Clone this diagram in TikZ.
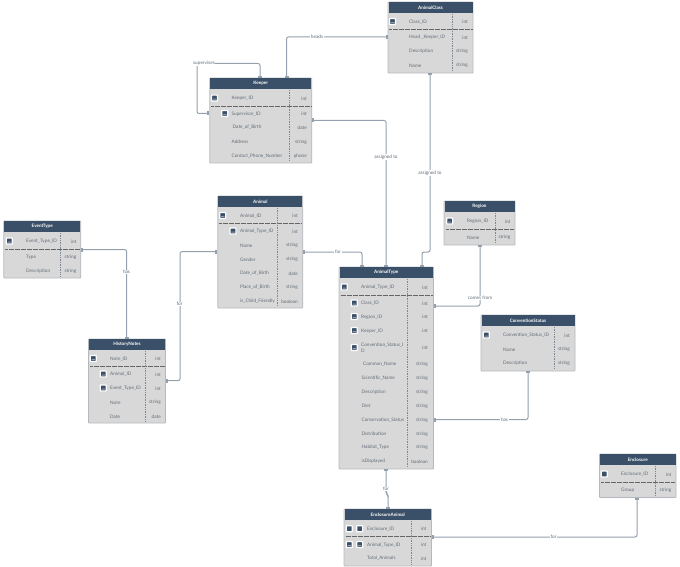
\documentclass[tikz,border=0pt]{standalone}
\usepackage{fontspec}
\setmainfont{Lato}
\usetikzlibrary{arrows.meta}
\definecolor{headblue}{HTML}{3A4F68}
\definecolor{bodygrey}{HTML}{D8D8D8}
\definecolor{edgegrey}{HTML}{B4B9BF}
\definecolor{linegrey}{HTML}{94A0AD}
\definecolor{textgrey}{HTML}{626C77}
\tikzset{
    tablebox/.style={draw=edgegrey, line width=0.8pt, fill=bodygrey, rounded corners=0.8pt, inner sep=0pt},
    headbox/.style={fill=headblue, text=white, inner sep=0pt, minimum height=11.5pt, anchor=north, font=\fontsize{4.6}{5}\selectfont\bfseries},
    fieldname/.style={text=textgrey, inner sep=0pt, anchor=west, align=left, yshift=-0.4pt, font=\fontsize{4.7}{5.6}\selectfont},
    fieldtype/.style={text=textgrey, inner sep=0pt, anchor=east, yshift=-0.4pt, font=\fontsize{4.7}{5.6}\selectfont},
    solidicon/.style={draw=white!92!bodygrey, line width=1.3pt, fill=headblue, rounded corners=0.6pt, inner sep=0pt, minimum size=6pt},
    keyicon/.style={solidicon, path picture={
        \fill[headblue!55!white] ([xshift=1pt, yshift=1.4pt]path picture bounding box.south west) rectangle ([xshift=-1pt, yshift=2.4pt]path picture bounding box.south east);
    }},
    rowline/.style={black!60, line width=0.6pt, dash pattern=on 0.7pt off 0.5pt},
    colline/.style={linegrey!85!black, line width=0.5pt, dash pattern=on 1pt off 0.7pt},
    relline/.style={linegrey, line width=1pt, rounded corners=2pt, arrows={{Bar[width=4pt, length=0.8pt] Bar[width=4pt, length=0.8pt]}-{Bar[width=4pt, length=0.8pt] Bar[width=4pt, length=0.8pt]}}},
    rellabel/.style={fill=white, text=textgrey, inner sep=0.6pt, font=\fontsize{4.7}{5}\selectfont}
}
\begin{document}
\begin{tikzpicture}[x=1pt, y=-1pt]
    \useasboundingbox (0, 0) rectangle (680, 567);

    \node[tablebox, minimum width=85pt, minimum height=71pt] (AnimalClass) at (430.5, 37.5) {};
    \node[headbox, minimum width=84pt] (AnimalClassHead) at (AnimalClass.north) {AnimalClass};
    \node[keyicon] (AnimalClassKey) at (392.5, 21.5) {};
    \node[fieldname] (ClassID) at (409, 21.5) {Class\_ID};
    \node[fieldtype] (ClassIDType) at (468, 21.5) {int};
    \node[fieldname] (HeadKeeperID) at (409, 37) {Head \_Keeper\_ID};
    \node[fieldtype] (HeadKeeperIDType) at (468, 37) {int};
    \node[fieldname] (ClassDescription) at (409, 51) {Description};
    \node[fieldtype] (ClassDescriptionType) at (468, 51) {string};
    \node[fieldname] (ClassName) at (409, 65) {Name};
    \node[fieldtype] (ClassNameType) at (468, 65) {string};
    \draw[rowline] (389, 29.5) -- (472, 29.5);
    \draw[colline] (452.5, 14) -- (452.5, 71);

    \node[tablebox, minimum width=102pt, minimum height=85pt] (Keeper) at (260.75, 120.5) {};
    \node[headbox, minimum width=101pt] (KeeperHead) at (Keeper.north) {Keeper};
    \node[keyicon] (KeeperKey) at (214.5, 98) {};
    \node[keyicon] (SupervisorKey) at (224.7, 113.5) {};
    \node[fieldname] (KeeperID) at (231.5, 98) {Keeper\_ID};
    \node[fieldtype] (KeeperIDType) at (307, 98) {int};
    \node[fieldname] (SupervisorID) at (231.5, 113.5) {Supervisor\_ID};
    \node[fieldtype] (SupervisorIDType) at (307, 113.5) {int};
    \node[fieldname] (KeeperBirth) at (232.5, 127) {Date\_of\_Birth};
    \node[fieldtype] (KeeperBirthType) at (307, 127) {date};
    \node[fieldname] (KeeperAddress) at (231.5, 141.5) {Address};
    \node[fieldtype] (KeeperAddressType) at (307, 141.5) {string};
    \node[fieldname] (KeeperPhone) at (231.5, 155.5) {Contact\_Phone\_Number};
    \node[fieldtype] (KeeperPhoneType) at (307, 155.5) {phone};
    \draw[rowline] (211, 106) -- (311, 106);
    \draw[colline] (289, 90) -- (289, 161);

    \node[tablebox, minimum width=77pt, minimum height=57pt] (EventType) at (42.25, 249.5) {};
    \node[headbox, minimum width=76pt] (EventTypeHead) at (EventType.north) {EventType};
    \node[keyicon] (EventTypeKey) at (9.3, 241) {};
    \node[fieldname] (EventTypeID) at (26, 241) {Event\_Type\_ID};
    \node[fieldtype] (EventTypeIDType) at (76.5, 241) {int};
    \node[fieldname] (EventTypeName) at (26, 256.5) {Type};
    \node[fieldtype] (EventTypeNameType) at (76.5, 256.5) {string};
    \node[fieldname] (EventDescription) at (26, 270.5) {Description};
    \node[fieldtype] (EventDescriptionType) at (76.5, 270.5) {string};
    \draw[rowline] (5, 249) -- (80, 249);
    \draw[colline] (60.5, 233) -- (60.5, 276);

    \node[tablebox, minimum width=77pt, minimum height=84pt] (HistoryNotes) at (127, 381) {};
    \node[headbox, minimum width=76pt] (HistoryNotesHead) at (HistoryNotes.north) {HistoryNotes};
    \node[keyicon] (NoteKey) at (93.3, 358.5) {};
    \node[keyicon] (NoteAnimalKey) at (103.3, 374) {};
    \node[keyicon] (NoteEventKey) at (103.3, 388) {};
    \node[fieldname] (NoteID) at (110, 358.5) {Note\_ID};
    \node[fieldtype] (NoteIDType) at (161, 358.5) {int};
    \node[fieldname] (NoteAnimalID) at (110, 374) {Animal\_ID};
    \node[fieldtype] (NoteAnimalIDType) at (161, 374) {int};
    \node[fieldname] (NoteEventID) at (110, 388) {Event\_Type\_ID};
    \node[fieldtype] (NoteEventIDType) at (161, 388) {int};
    \node[fieldname] (NoteText) at (110, 402) {Note};
    \node[fieldtype] (NoteTextType) at (161, 402) {string};
    \node[fieldname] (NoteDate) at (110, 416) {Date};
    \node[fieldtype] (NoteDateType) at (161, 416) {date};
    \draw[rowline] (90, 366) -- (165, 366);
    \draw[colline] (145, 351) -- (145, 421);

    \node[tablebox, minimum width=85pt, minimum height=112pt] (Animal) at (260.25, 252) {};
    \node[headbox, minimum width=84pt] (AnimalHead) at (Animal.north) {Animal};
    \node[keyicon] (AnimalKey) at (222.7, 215.5) {};
    \node[keyicon] (AnimalTypeFK) at (233, 231) {};
    \node[fieldname] (AnimalID) at (240, 215.5) {Animal\_ID};
    \node[fieldtype] (AnimalIDType) at (298, 215.5) {int};
    \node[fieldname] (AnimalTypeRef) at (240, 231) {Animal\_Type\_ID};
    \node[fieldtype] (AnimalTypeRefType) at (298, 231) {int};
    \node[fieldname] (AnimalName) at (240, 245) {Name};
    \node[fieldtype] (AnimalNameType) at (298, 245) {string};
    \node[fieldname] (AnimalGender) at (240, 259) {Gender};
    \node[fieldtype] (AnimalGenderType) at (298, 259) {string};
    \node[fieldname] (AnimalBirth) at (240, 273) {Date\_of\_Birth};
    \node[fieldtype] (AnimalBirthType) at (298, 273) {date};
    \node[fieldname] (AnimalPlace) at (240, 287) {Place\_of\_Birth};
    \node[fieldtype] (AnimalPlaceType) at (298, 287) {string};
    \node[fieldname] (AnimalFriendly) at (240, 301) {is\_Child\_Friendly};
    \node[fieldtype] (AnimalFriendlyType) at (298, 301) {boolean};
    \draw[rowline] (219, 223.5) -- (301.5, 223.5);
    \draw[colline] (277.5, 208) -- (277.5, 306);

    \node[tablebox, minimum width=71pt, minimum height=44pt] (Region) at (479.5, 223) {};
    \node[headbox, minimum width=70pt] (RegionHead) at (Region.north) {Region};
    \node[keyicon] (RegionKey) at (449.7, 221) {};
    \node[fieldname] (RegionID) at (467, 221) {Region\_ID};
    \node[fieldtype] (RegionIDType) at (510.5, 221) {int};
    \node[fieldname] (RegionName) at (467, 237) {Name};
    \node[fieldtype] (RegionNameType) at (510.5, 237) {string};
    \draw[rowline] (446, 229) -- (514, 229);
    \draw[colline] (495, 213) -- (495, 243);

    \node[tablebox, minimum width=94.5pt, minimum height=202pt] (AnimalType) at (386.25, 368) {};
    \node[headbox, minimum width=93.5pt] (AnimalTypeHead) at (AnimalType.north) {AnimalType};
    \node[keyicon] (AnimalTypeKey) at (344.3, 287) {};
    \node[keyicon] (TypeClassKey) at (354.3, 303) {};
    \node[keyicon] (TypeRegionKey) at (354.3, 316.5) {};
    \node[keyicon] (TypeKeeperKey) at (354.3, 330.5) {};
    \node[keyicon] (TypeStatusKey) at (354.3, 347.5) {};
    \node[fieldname] (AnimalTypeID) at (361, 287) {Animal\_Type\_ID};
    \node[fieldtype] (AnimalTypeIDType) at (428, 287) {int};
    \node[fieldname] (TypeClass) at (361, 303) {Class\_ID};
    \node[fieldtype] (TypeClassType) at (428, 303) {int};
    \node[fieldname] (TypeRegion) at (361, 316.5) {Region\_ID};
    \node[fieldtype] (TypeRegionType) at (428, 316.5) {int};
    \node[fieldname] (TypeKeeper) at (361, 330.5) {Keeper\_ID};
    \node[fieldtype] (TypeKeeperType) at (428, 330.5) {int};
    \node[fieldname] (TypeStatus) at (361, 347.5) {Convention\_Status\_I\\D};
    \node[fieldtype] (TypeStatusType) at (428, 347.5) {int};
    \node[fieldname] (TypeCommon) at (363, 364) {Common\_Name};
    \node[fieldtype] (TypeCommonType) at (428, 364) {string};
    \node[fieldname] (TypeScientific) at (361.5, 378) {Scientific\_Name};
    \node[fieldtype] (TypeScientificType) at (428, 378) {string};
    \node[fieldname] (TypeDescription) at (361.5, 391.5) {Description};
    \node[fieldtype] (TypeDescriptionType) at (428, 391.5) {string};
    \node[fieldname] (TypeDiet) at (361.5, 405.5) {Diet};
    \node[fieldtype] (TypeDietType) at (428, 405.5) {string};
    \node[fieldname] (TypeConservation) at (361.5, 419.5) {Conservation\_Status};
    \node[fieldtype] (TypeConservationType) at (428, 419.5) {string};
    \node[fieldname] (TypeDistribution) at (361.5, 433.5) {Distribution};
    \node[fieldtype] (TypeDistributionType) at (428, 433.5) {string};
    \node[fieldname] (TypeHabitat) at (361.5, 447) {Habitat\_Type};
    \node[fieldtype] (TypeHabitatType) at (428, 447) {string};
    \node[fieldname] (TypeDisplayed) at (361.5, 461) {isDisplayed};
    \node[fieldtype] (TypeDisplayedType) at (428, 461) {boolean};
    \draw[rowline] (340.5, 295) -- (432.5, 295);
    \draw[colline] (407, 279) -- (407, 467);

    \node[tablebox, minimum width=94pt, minimum height=56pt] (ConventionStatus) at (528, 343) {};
    \node[headbox, minimum width=93pt] (ConventionStatusHead) at (ConventionStatus.north) {ConventionStatus};
    \node[keyicon] (StatusKey) at (486.3, 335) {};
    \node[fieldname] (StatusID) at (503, 335) {Convention\_Status\_ID};
    \node[fieldtype] (StatusIDType) at (570, 335) {int};
    \node[fieldname] (StatusName) at (503, 349) {Name};
    \node[fieldtype] (StatusNameType) at (570, 349) {string};
    \node[fieldname] (StatusDescription) at (503, 363) {Description};
    \node[fieldtype] (StatusDescriptionType) at (570, 363) {string};
    \draw[colline] (554.5, 327) -- (554.5, 369);

    \node[tablebox, minimum width=76.5pt, minimum height=43.5pt] (Enclosure) at (637.75, 475.75) {};
    \node[headbox, minimum width=75.5pt] (EnclosureHead) at (Enclosure.north) {Enclosure};
    \node[solidicon] (EnclosureKey) at (604.3, 474) {};
    \node[fieldname] (EnclosureID) at (621, 474) {Enclosure\_ID};
    \node[fieldtype] (EnclosureIDType) at (671.5, 474) {int};
    \node[fieldname] (EnclosureGroup) at (621, 490) {Group};
    \node[fieldtype] (EnclosureGroupType) at (671.5, 490) {string};
    \draw[rowline] (601, 482) -- (675, 482);
    \draw[colline] (655.5, 466) -- (655.5, 496);

    \node[tablebox, minimum width=87.5pt, minimum height=57pt] (EnclosureAnimal) at (387.75, 537.5) {};
    \node[headbox, minimum width=86.5pt] (EnclosureAnimalHead) at (EnclosureAnimal.north) {EnclosureAnimal};
    \node[solidicon] (PairKeyA) at (349.3, 528.7) {};
    \node[solidicon] (PairKeyB) at (359.7, 528.7) {};
    \node[keyicon] (PairKeyC) at (349.3, 544.5) {};
    \node[keyicon] (PairKeyD) at (359.7, 544.5) {};
    \node[fieldname] (PairEnclosure) at (367, 528.7) {Enclosure\_ID};
    \node[fieldtype] (PairEnclosureType) at (426.5, 528.7) {int};
    \node[fieldname] (PairAnimal) at (367, 544.5) {Animal\_Type\_ID};
    \node[fieldtype] (PairAnimalType) at (426.5, 544.5) {int};
    \node[fieldname] (PairTotal) at (367, 558) {Total\_Animals};
    \node[fieldtype] (PairTotalType) at (426.5, 558) {int};
    \draw[rowline] (345.5, 536.3) -- (430.5, 536.3);
    \draw[colline] (411, 521) -- (411, 564);

    % bends of the relations
    \coordinate (headsBend) at (286.5, 37);
    \coordinate (superTop) at (260, 63.5);
    \coordinate (superLeft) at (197, 63.5);
    \coordinate (superLow) at (197, 113.5);
    \coordinate (keeperBend) at (386, 120.5);
    \coordinate (classDown) at (430, 252);
    \coordinate (classOver) at (422, 252);
    \coordinate (forBend) at (362, 252);
    \coordinate (fromBend) at (480, 306);
    \coordinate (hasBend) at (528, 419.5);
    \coordinate (jogTop) at (386, 493);
    \coordinate (jogLow) at (388, 495);
    \coordinate (pairBend) at (637, 537);
    \coordinate (eventBend) at (126.5, 249.5);
    \coordinate (noteTop) at (180, 251.7);
    \coordinate (noteLow) at (180, 380.7);

    \draw[relline] (AnimalClass.west |- headsBend) -- (headsBend) -- (Keeper.north -| headsBend);
    \draw[relline] (Keeper.north -| superTop) -- (superTop) -- (superLeft) -- (superLow) -- (Keeper.west |- superLow);
    \draw[relline] (Keeper.east |- keeperBend) -- (keeperBend) -- (AnimalType.north -| keeperBend);
    \draw[relline] (AnimalClass.south -| classDown) -- (classDown) -- (classOver) -- (AnimalType.north -| classOver);
    \draw[relline] (Animal.east |- forBend) -- (forBend) -- (AnimalType.north -| forBend);
    \draw[relline] (Region.south -| fromBend) -- (fromBend) -- (AnimalType.east |- fromBend);
    \draw[relline] (ConventionStatus.south -| hasBend) -- (hasBend) -- (AnimalType.east |- hasBend);
    \draw[relline] (AnimalType.south -| jogTop) -- (jogTop) -- (jogLow) -- (EnclosureAnimal.north -| jogLow);
    \draw[relline] (Enclosure.south -| pairBend) -- (pairBend) -- (EnclosureAnimal.east |- pairBend);
    \draw[relline] (EventType.east |- eventBend) -- (eventBend) -- (HistoryNotes.north -| eventBend);
    \draw[relline] (Animal.west |- noteTop) -- (noteTop) -- (noteLow) -- (HistoryNotes.east |- noteLow);

    \node[rellabel] (headsLabel) at (317, 37) {heads};
    \node[rellabel] (superLabel) at (204, 63.5) {supervises};
    \node[rellabel] (keeperLabel) at (386, 157) {assigned to};
    \node[rellabel] (classLabel) at (430, 173) {assigned to};
    \node[rellabel] (forLabel) at (338, 252) {for};
    \node[rellabel] (fromLabel) at (480, 298) {comes from};
    \node[rellabel] (hasLabel) at (504.5, 419.5) {has};
    \node[rellabel] (jogLabel) at (386, 489) {for};
    \node[rellabel] (pairLabel) at (553.5, 537) {for};
    \node[rellabel] (eventLabel) at (126.5, 272) {has};
    \node[rellabel] (noteLabel) at (179.5, 304) {for};
\end{tikzpicture}
\end{document}
